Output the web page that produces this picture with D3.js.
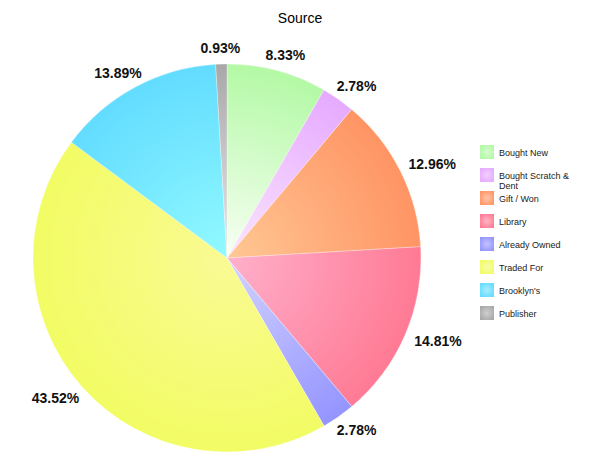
<!DOCTYPE html>
<html>
<head>
<meta charset="utf-8">
<script src="https://cdn.jsdelivr.net/npm/d3@7"></script>
<style>
  body { margin: 0; background: #fff; }
  svg { display: block; font-family: Arial, "Liberation Sans", sans-serif; }
</style>
</head>
<body>
<div id="chart"></div>
<script>
// Data
const categories = ["Bought New", "Bought Scratch & Dent", "Gift / Won", "Library", "Already Owned", "Traded For", "Brooklyn's", "Publisher"];
const shares = [8.33, 2.78, 12.96, 14.81, 2.78, 43.52, 13.89, 0.93];
const chartTitle = "Source";

// Colours (edge colour, lighter centre colour)
const edgeColours = ["#b3f9a5", "#e6aaff", "#ff9464", "#ff7a94", "#9494ff", "#f2fc64", "#62dcff", "#a8a8a8"];
const centreColours = ["#f8fff4", "#fbe6ff", "#ffc894", "#ffb0cc", "#d4d4ff", "#fafa94", "#92faff", "#e8e8e8"];

const width = 600, height = 463;
const cx = 227, cy = 258, radius = 194;

const svg = d3.select("#chart")
    .append("svg")
    .attr("width", width)
    .attr("height", height)
    .attr("viewBox", [0, 0, width, height]);

const defs = svg.append("defs");

// Radial gradients for the slices, centred on the pie centre
categories.forEach((c, i) => {
    const g = defs.append("radialGradient")
        .attr("id", "slice-grad-" + i)
        .attr("gradientUnits", "userSpaceOnUse")
        .attr("cx", 0).attr("cy", 0).attr("r", radius);
    g.append("stop").attr("offset", "0%").attr("stop-color", centreColours[i]);
    g.append("stop").attr("offset", "100%").attr("stop-color", edgeColours[i]);

    const lg = defs.append("radialGradient")
        .attr("id", "legend-grad-" + i)
        .attr("cx", 0.5).attr("cy", 0.5).attr("r", 0.6);
    lg.append("stop").attr("offset", "0%").attr("stop-color", d3.interpolateRgb(edgeColours[i], "#fff")(0.45));
    lg.append("stop").attr("offset", "100%").attr("stop-color", edgeColours[i]);
});

// Title
svg.append("text")
    .attr("x", 300)
    .attr("y", 23)
    .attr("text-anchor", "middle")
    .attr("font-size", 14)
    .attr("fill", "#000")
    .text(chartTitle);

const pie = d3.pie().sort(null).value(d => d)(shares);
const arc = d3.arc().innerRadius(0).outerRadius(radius);

const pieGroup = svg.append("g")
    .attr("transform", "translate(" + cx + "," + cy + ")");

pieGroup.selectAll("path")
    .data(pie)
    .enter()
    .append("path")
    .attr("d", arc)
    .attr("fill", (d, i) => "url(#slice-grad-" + i + ")")
    .attr("stroke", "#fff")
    .attr("stroke-opacity", 0.5)
    .attr("stroke-width", 0.6);

// Percentage labels, placed just outside the rim
const labelRadius = radius + 12;
pieGroup.selectAll("text.pct")
    .data(pie)
    .enter()
    .append("text")
    .attr("class", "pct")
    .attr("font-size", 14)
    .attr("font-weight", "bold")
    .attr("fill", "#111")
    .attr("text-anchor", "middle")
    .attr("dy", "0.36em")
    .text(d => d3.format(".2f")(d.value) + "%")
    .each(function (d) {
        const a = (d.startAngle + d.endAngle) / 2;
        const w = this.getComputedTextLength();
        const x = labelRadius * Math.sin(a) + (w / 2) * Math.sin(a);
        const y = -labelRadius * Math.cos(a) - 4.5 * Math.cos(a);
        d3.select(this).attr("x", x).attr("y", y);
    });

// Legend
const legend = svg.append("g")
    .attr("transform", "translate(480,145)");

const rows = legend.selectAll("g")
    .data(categories)
    .enter()
    .append("g")
    .attr("transform", (d, i) => "translate(0," + i * 23 + ")");

rows.append("rect")
    .attr("width", 14)
    .attr("height", 14)
    .attr("fill", (d, i) => "url(#legend-grad-" + i + ")");

rows.append("text")
    .attr("x", 19)
    .attr("y", 11)
    .attr("font-size", 9)
    .attr("fill", "#222")
    .each(function (d) {
        // simple word wrap
        const el = d3.select(this);
        const words = d.split(" ");
        let line = [];
        let tspan = el.append("tspan").attr("x", 19).attr("dy", 0);
        words.forEach(word => {
            line.push(word);
            tspan.text(line.join(" "));
            if (tspan.node().getComputedTextLength() > 76 && line.length > 1) {
                line.pop();
                tspan.text(line.join(" "));
                line = [word];
                tspan = el.append("tspan").attr("x", 19).attr("dy", 10).text(word);
            }
        });
    });
</script>
</body>
</html>
